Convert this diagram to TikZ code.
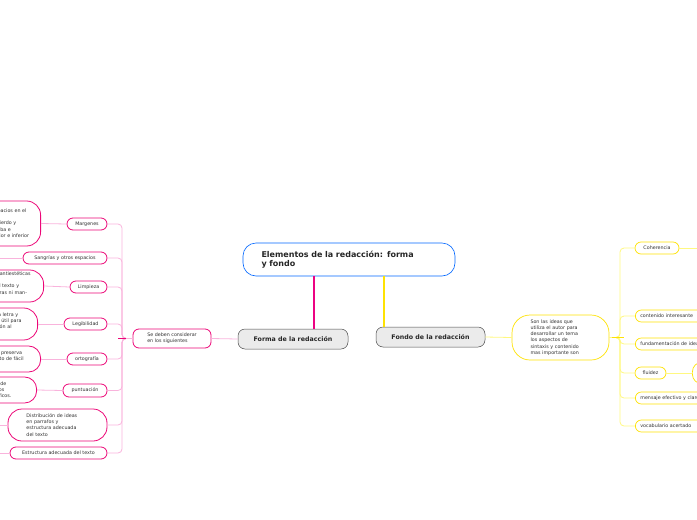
\documentclass[tikz,border=0pt]{standalone}
\usepackage{fontspec}
\setmainfont{DejaVu Sans}
\begin{document}
\begin{tikzpicture}[x=1pt,y=-1pt,
  t/.style={font=\fontsize{4.8}{6.2}\selectfont,text=black!80,inner sep=0pt},
  pk/.style={draw=magenta!80!red,line width=0.8pt,rounded corners=6pt,fill=white,t},
  yl/.style={draw=yellow!85!orange,line width=0.7pt,rounded corners=6pt,fill=white,t},
  pl/.style={draw=magenta!30,line width=0.8pt,rounded corners=4pt},
  ylin/.style={draw=yellow!50,line width=0.8pt,rounded corners=4pt},
  main/.style={draw=black!70,line width=0.5pt,fill=black!8,rounded corners=7pt,font=\fontsize{6.3}{7.5}\selectfont\bfseries,text=black!85}]
\useasboundingbox (0,0) rectangle (697,520);
\clip (0,0) rectangle (697,520);
% main nodes
\node[draw=blue!60!cyan,line width=0.6pt,rounded corners=13pt,minimum width=212pt,minimum height=33pt,fill=white,font=\fontsize{8}{9.5}\selectfont\bfseries,text=black!85,align=left,text width=175pt] (title) at (349,259.5) {Elementos de la redacción: forma\\y fondo};
\node[main,minimum width=110pt,minimum height=20pt] (forma) at (293,339) {Forma de la redacción};
\node[main,minimum width=109pt,minimum height=20pt] (fondo) at (430.5,337) {Fondo de la redacción};
\draw[magenta!90!red,line width=2pt] (314,276) -- (314,329);
\draw[yellow!85!orange,line width=1.5pt] (384,276) -- (384,327);
% left side
\node[pk,minimum width=78pt,minimum height=19pt,align=left] (se) at (172,338.5) {Se deben considerar\\en los siguientes};
\draw[pl] (forma.west) -- (se.east);
\node[pk,minimum width=40pt,minimum height=12pt] (c1) at (87,224) {Margenes};
\node[pk,minimum width=84pt,minimum height=12pt] (c2) at (65,258) {Sangrías y otros espacios};
\node[pk,minimum width=37pt,minimum height=12pt] (c3) at (88.5,287) {Limpieza};
\node[pk,minimum width=43pt,minimum height=12pt] (c4) at (85.5,324) {Legibilidad};
\node[pk,minimum width=40pt,minimum height=12pt] (c5) at (87,359) {ortografía};
\node[pk,minimum width=44pt,minimum height=13pt] (c6) at (85,390.5) {puntuación};
\node[pk,rounded corners=14pt,minimum width=99pt,minimum height=32pt,align=left,text width=62pt] (c7) at (57.5,425) {Distribución de ideas\\en parrafos y\\estructura adecuada\\del texto};
\node[pk,minimum width=97pt,minimum height=12pt] (c8) at (58.5,453) {Estructura adecuada del texto};
\foreach \c in {c1,c2,c3,c4,c5,c6,c7,c8}
  \draw[pl] (\c.east) -| (122,338.5) -- (se.west);
\draw[magenta!80!red,line width=1.2pt] (118,338.5) -- (126,338.5);
% partial left nodes
\node[pk,rounded corners=14pt,minimum width=80pt,minimum height=45pt,align=left,text width=62pt,anchor=east] (g1) at (41,223.5) {Se dejan espacios en el\\papel\\margen izquierdo y\\derecho, arriba e\\abajo, superior e inferior};
\node[pk,rounded corners=14pt,minimum width=80pt,minimum height=32pt,align=left,text width=64pt,anchor=east] (g3) at (44,286) {Sin marcas antiestéticas al\\presentar el texto y\\sin tachaduras ni manchas};
\node[pk,rounded corners=14pt,minimum width=80pt,minimum height=32pt,align=left,text width=60pt,anchor=east] (g4) at (38,324) {Claridad de la letra y\\del escrito es útil para\\su comprensión al\\lector};
\node[pk,rounded corners=12pt,minimum width=80pt,minimum height=26pt,align=left,text width=64pt,anchor=east] (g5) at (41,359) {La ortografía preserva\\y hace al texto de fácil\\lectura};
\node[pk,rounded corners=12pt,minimum width=80pt,minimum height=26pt,align=left,text width=64pt,anchor=east] (g6) at (37,390) {Uso adecuado de\\los signos de los\\textos ortográficos.};
\draw[pl] (c1.west) -- (g1.east);
\draw[pl] (c3.west) -- (g3.east);
\draw[pl] (c4.west) -- (g4.east);
\draw[pl] (c5.west) -- (g5.east);
\draw[pl] (c6.west) -- (g6.east);
\coordinate (e2) at (0,258); \coordinate (e7) at (0,425); \coordinate (e8) at (0,453);
\draw[pl] (c2.west) -- (e2);
\draw[pl] (c7.west) -- (e7);
\draw[pl] (c8.west) -- (e8);
% right side
\node[yl,rounded corners=18pt,minimum width=97pt,minimum height=45pt,align=left,text width=60pt] (son) at (560.5,337.5) {Son las ideas que\\utiliza el autor para\\desarrollar un tema\\los aspectos de\\sintaxis y contenido\\mas importante son};
\draw[ylin] (fondo.east) -- (son.west);
\node[yl,minimum width=44pt,minimum height=12pt] (d1) at (657,248) {Coherencia};
\node[yl,minimum width=80pt,minimum height=12pt,anchor=west,text width=70pt] (d2) at (635,316) {contenido interesante};
\node[yl,minimum width=80pt,minimum height=12pt,anchor=west,text width=70pt] (d3) at (635,344) {fundamentación de ideas};
\node[yl,minimum width=31pt,minimum height=12pt] (d4) at (650.5,373) {fluidez};
\node[yl,minimum width=80pt,minimum height=12pt,anchor=west,text width=70pt] (d5) at (635,398) {mensaje efectivo y claro};
\node[yl,minimum width=80pt,minimum height=12pt,anchor=west,text width=70pt] (d6) at (635,426) {vocabulario acertado};
\foreach \d in {d1,d2,d3,d4,d5,d6}
  \draw[ylin] (\d.west) -| (620,337.5) -- (son.east);
\draw[yellow!85!orange,line width=1.2pt] (612,337.5) -- (624,337.5);
\node[yl,rounded corners=10pt,minimum width=30pt,minimum height=22pt,anchor=west] (d4b) at (692,373) {};
\coordinate (r1) at (697,248);
\draw[ylin] (d1.east) -- (r1);
\draw[ylin] (d4.east) -- (d4b.west);
\end{tikzpicture}
\end{document}
